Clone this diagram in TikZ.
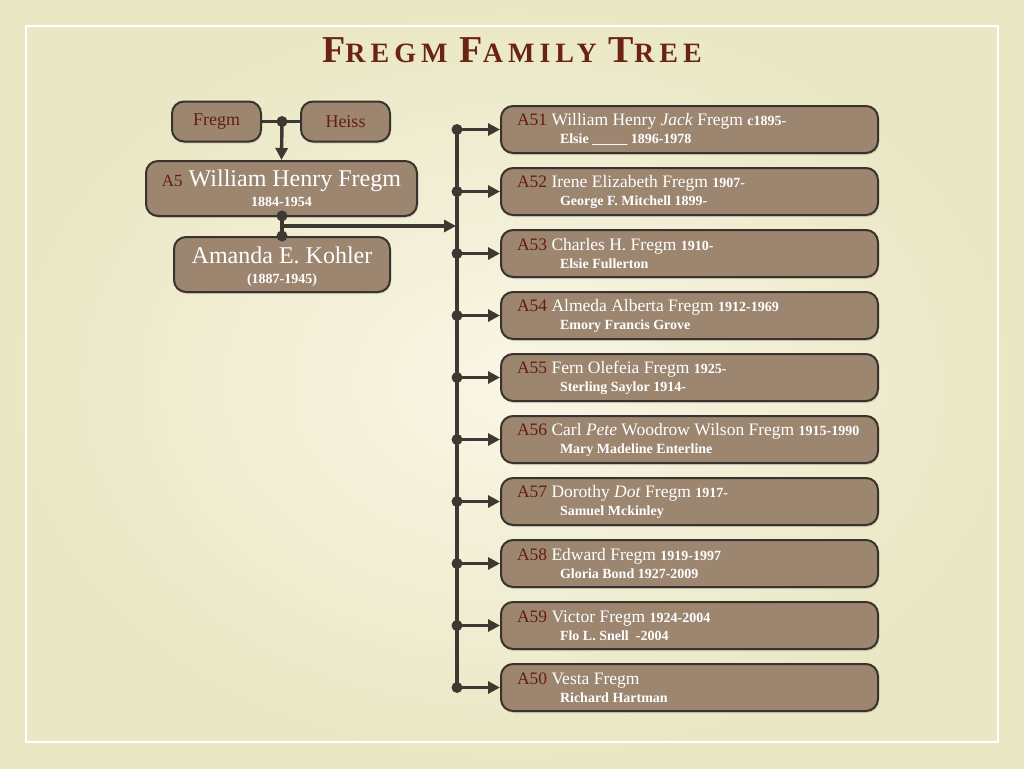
\documentclass[tikz,border=0pt]{standalone}
\usepackage{fontspec}
\setmainfont{Liberation Serif}
\usetikzlibrary{arrows.meta,shadows}
\definecolor{bgin}{RGB}{249,246,230}
\definecolor{bgout}{RGB}{234,231,196}
\definecolor{boxfill}{RGB}{156,134,112}
\definecolor{boxline}{RGB}{58,51,45}
\definecolor{connc}{RGB}{62,56,50}
\definecolor{dkred}{RGB}{104,28,12}
\definecolor{titlered}{RGB}{108,36,18}
\newcommand\yrs[1]{{\bfseries\fontsize{14}{18}\selectfont #1}}
\newcommand\idn[1]{{\color{dkred}#1}}
\newcommand\bigc[1]{{\fontsize{38}{40}\selectfont #1}}
\newcommand\kidtext[2]{\mbox{#1}\\\hspace*{43pt}\yrs{#2}}
\tikzset{
  box/.style={draw=boxline, line width=2pt, fill=boxfill, rounded corners=12pt,
    drop shadow={opacity=0.25,shadow xshift=1pt,shadow yshift=-2pt}, text=white, inner sep=0pt,
    execute at begin node={\spaceskip=0pt\xspaceskip=0pt\relax}},
  kid/.style={box, minimum width=377pt, minimum height=47pt, text width=345pt, align=left,
    font=\fontsize{17.5}{18}\selectfont},
  par/.style={box, minimum width=89pt, minimum height=40pt, text=dkred, font=\fontsize{18}{20}\selectfont},
  big/.style={box, minimum height=55pt, align=center, font=\fontsize{24}{20}\selectfont},
  conn/.style={draw=connc, line width=3.4pt},
  arr/.style={conn, -{Triangle[length=12pt,width=12pt]}},
}
\begin{document}
\begin{tikzpicture}[x=1pt,y=-1pt]
\useasboundingbox (0,0) rectangle (1024,768);
\shade[inner color=bgin, outer color=bgout] (0,0) rectangle (1024,768);
\draw[color=bgout!85!black, line width=2.6pt, opacity=0.35] (26,26) rectangle (998,742);
\draw[white, line width=1.6pt] (26,26) rectangle (998,742);

% title
\node[text=titlered, font=\bfseries\fontsize{28}{30}\selectfont] (title) at (512,50)
  {\addfontfeatures{LetterSpace=18}\bigc{F}REGM \bigc{F}AMILY \bigc{T}REE};

% parents
\node[par] (fa) at (216.5,121.5) {Fregm};
\node[par] (mo) at (345.5,121.5) {Heiss};
\node[big, minimum width=271pt] (p) at (281.5,188.5)
  {\idn{\fontsize{17}{20}\selectfont A5} William Henry Fregm\\\yrs{1884-1954}};
\node[big, minimum width=216pt] (s) at (282,264.5)
  {\rule{0pt}{20pt}Amanda E. Kohler\\\yrs{(1887-1945)}};

\coordinate (j1) at (282,121.5);
\draw[conn] (fa.east) -- (mo.west);
\draw[arr] (j1) -- (p.north);
\fill[connc] (j1) circle (5.5pt);

\coordinate (pd) at (282,216);
\coordinate (sd) at (282,236);
\coordinate (mj) at (282,226);
\coordinate (bm) at (456,226);
\draw[conn] (pd) -- (sd);
\draw[arr] (mj) -- (bm);
\fill[connc] (pd) circle (5.5pt);
\fill[connc] (sd) circle (5.5pt);

% children
\node[kid] (c1) at (689.5,129.5) {\kidtext{\idn{A51} William Henry \textit{Jack} Fregm \yrs{c1895-}}{Elsie \_\_\_\_\_ 1896-1978}};
\node[kid] (c2) at (689.5,191.5) {\kidtext{\idn{A52} Irene Elizabeth Fregm \yrs{1907-}}{George F. Mitchell 1899-}};
\node[kid] (c3) at (689.5,253.5) {\kidtext{\idn{A53} Charles H. Fregm \yrs{1910-}}{Elsie Fullerton}};
\node[kid] (c4) at (689.5,315.5) {\kidtext{\idn{A54} Almeda Alberta Fregm \yrs{1912-1969}}{Emory Francis Grove}};
\node[kid] (c5) at (689.5,377.5) {\kidtext{\idn{A55} Fern Olefeia Fregm \yrs{1925-}}{Sterling Saylor 1914-}};
\node[kid] (c6) at (689.5,439.5) {\kidtext{\idn{A56} Carl \textit{Pete} Woodrow Wilson Fregm \yrs{1915-1990}}{Mary Madeline Enterline}};
\node[kid] (c7) at (689.5,501.5) {\kidtext{\idn{A57} Dorothy \textit{Dot} Fregm \yrs{1917-}}{Samuel Mckinley}};
\node[kid] (c8) at (689.5,563.5) {\kidtext{\idn{A58} Edward Fregm \yrs{1919-1997}}{Gloria Bond 1927-2009}};
\node[kid] (c9) at (689.5,625.5) {\kidtext{\idn{A59} Victor Fregm \yrs{1924-2004}}{Flo L. Snell\ \ -2004}};
\node[kid] (c10) at (689.5,687.5) {\kidtext{\idn{A50} Vesta Fregm}{Richard Hartman}};

% bus
\coordinate (btop) at (457,129.5);
\coordinate (bbot) at (457,687.5);
\draw[conn] (btop) -- (bbot);
\foreach \i in {1,...,10}{
  \coordinate (b\i) at (btop |- c\i.west);
  \draw[arr] (b\i) -- (c\i.west);
  \fill[connc] (b\i) circle (5.5pt);
}
\end{tikzpicture}
\end{document}
